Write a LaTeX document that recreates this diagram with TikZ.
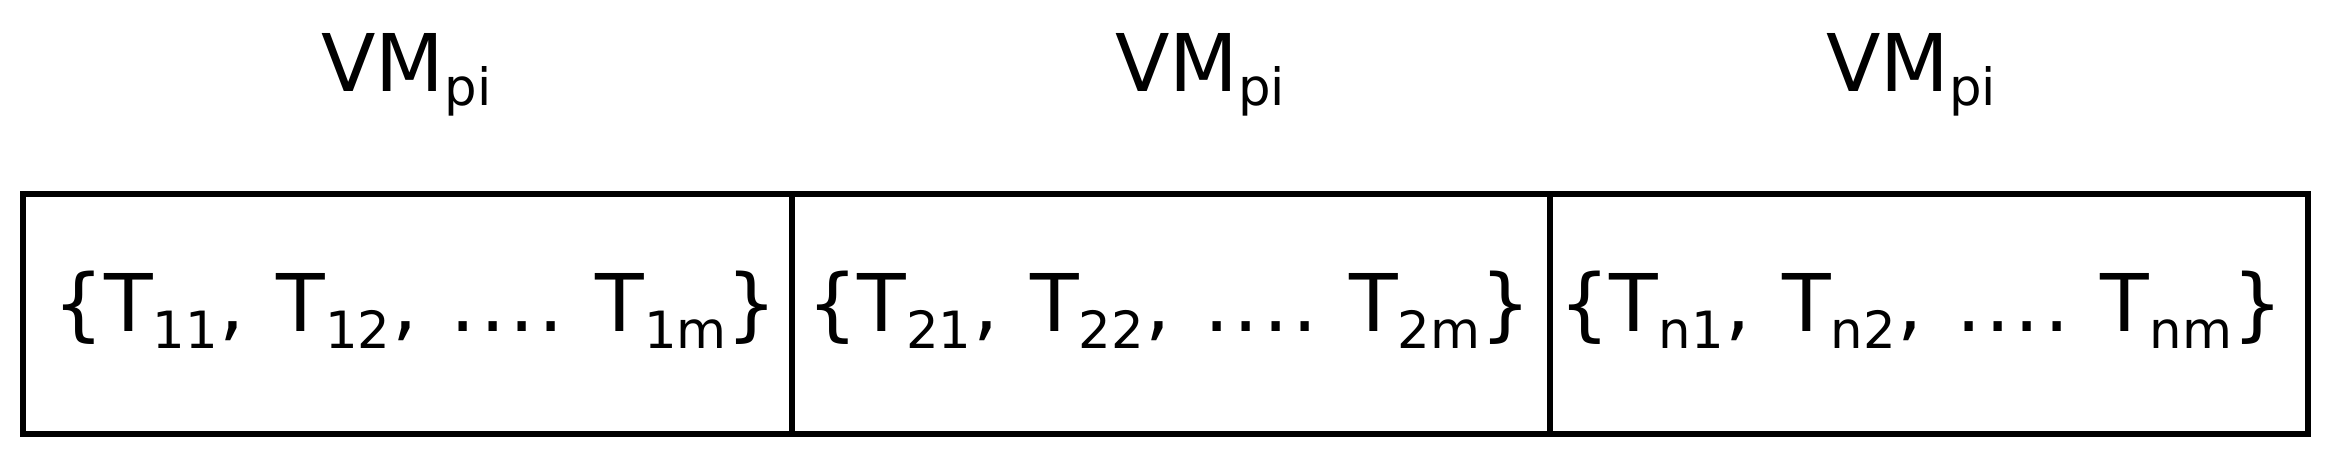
\documentclass[tikz,border=0pt]{standalone}
\usepackage{fontspec}
\setmainfont{DejaVu Sans}
\newcommand\mysubA[1]{\raisebox{-10pt}{\fontsize{38.5}{46}\selectfont #1}}
\newcommand\mysubB[1]{\raisebox{-12.5pt}{\fontsize{38.5}{46}\selectfont #1}}
\newcommand\mygap{\hspace{0.37em}}
\newcommand\mycomma{\makebox[0.364em][c]{,}}
\newcommand\mydot{\makebox[0.368em][c]{.}}
\newcommand\mydots{\mydot\mydot\mydot\mydot}
\begin{document}
\begin{tikzpicture}[x=0.75pt,y=-0.75pt,
  big/.style={font=\fontsize{59.7}{72}\selectfont, inner sep=0pt, anchor=base},
  frame/.style={draw=black, line width=4.5pt},
  divider/.style={draw=black, line width=4.5pt}]
\useasboundingbox (0,0) rectangle (2335,466);
\coordinate (tl) at (22.5,194.5);
\coordinate (br) at (2308,434);
\coordinate (d1t) at (792,194.5);
\coordinate (d1b) at (792,434);
\coordinate (d2t) at (1550,194.5);
\coordinate (d2b) at (1550,434);
\draw[frame] (tl) rectangle (br);
\draw[divider] (d1t) -- (d1b);
\draw[divider] (d2t) -- (d2b);
\node[big] (vm1) at (406.5,91.7) {VM\mysubA{pi}};
\node[big] (vm2) at (1200,91.7) {VM\mysubA{pi}};
\node[big] (vm3) at (1911,91.7) {VM\mysubA{pi}};
\node[big] (c1) at (415.5,331.7) {\{T\mysubB{11}\mycomma\mygap T\mysubB{12}\mycomma\mygap\mydots\mygap T\mysubB{1m}\}};
\node[big] (c2) at (1169,331.7) {\{T\mysubB{21}\mycomma\mygap T\mysubB{22}\mycomma\mygap\mydots\mygap T\mysubB{2m}\}};
\node[big] (c3) at (1921,331.7) {\{T\mysubB{n1}\mycomma\mygap T\mysubB{n2}\mycomma\mygap\mydots\mygap T\mysubB{nm}\}};
\end{tikzpicture}
\end{document}
